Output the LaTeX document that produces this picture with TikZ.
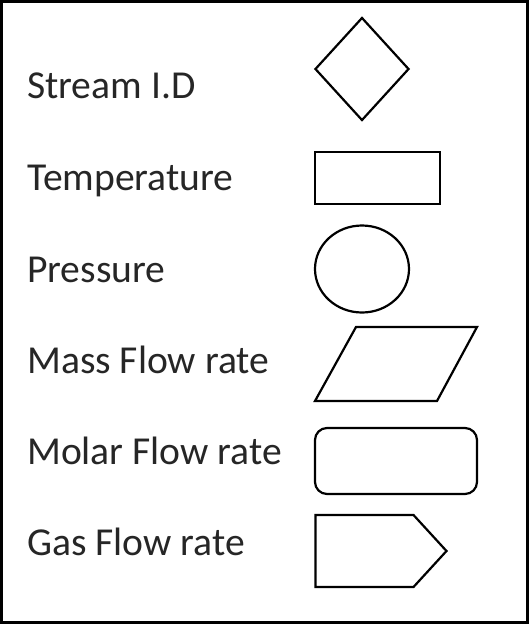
\documentclass[tikz,border=0pt]{standalone}
\usepackage{fontspec}
\setmainfont{Carlito}
\usetikzlibrary{positioning}
\usetikzlibrary{shapes.geometric,shapes.symbols}

\begin{document}
\begin{tikzpicture}[x=1pt,y=-1pt,
    lab/.style={anchor=base west,inner sep=0,text=black!85,font=\fontsize{39.6}{46}\selectfont},
    sym/.style={draw,line width=2.2pt,inner sep=0}]
        \useasboundingbox (0,0) rectangle (530,625);
        \node (frame) [draw,line width=3pt,minimum width=526pt,minimum height=621pt,inner sep=0] at (264.5,312) {};

        \node (idlab) [lab] at (27,98) {Stream I.D};
        \node (templab) [lab] at (27,190) {Temperature};
        \node (preslab) [lab] at (27,282) {Pressure};
        \node (masslab) [lab] at (27,373) {Mass Flow rate};
        \node (molarlab) [lab] at (27,464) {Molar Flow rate};
        \node (gaslab) [lab] at (27,555) {Gas Flow rate};

        \node (idsym) [sym,diamond,minimum width=94pt,minimum height=103pt] at (362,69) {};
        \node (tempsym) [sym,rectangle,minimum width=125pt,minimum height=52pt] at (377.5,178) {};
        \node (pressym) [sym,ellipse,minimum width=94pt,minimum height=87pt] at (362,269) {};
        \draw[line width=2.2pt,line join=miter] (356,327) -- (477,327) -- (437,401) -- (315,401) -- cycle;
        \node (molarsym) [sym,rectangle,rounded corners=12pt,minimum width=162pt,minimum height=66pt] at (396,461) {};
        \node (gassym) [sym,signal,signal to=east,signal pointer angle=95,minimum width=131pt,minimum height=72pt] at (364.5,551) {};
    \end{tikzpicture}
\end{document}
